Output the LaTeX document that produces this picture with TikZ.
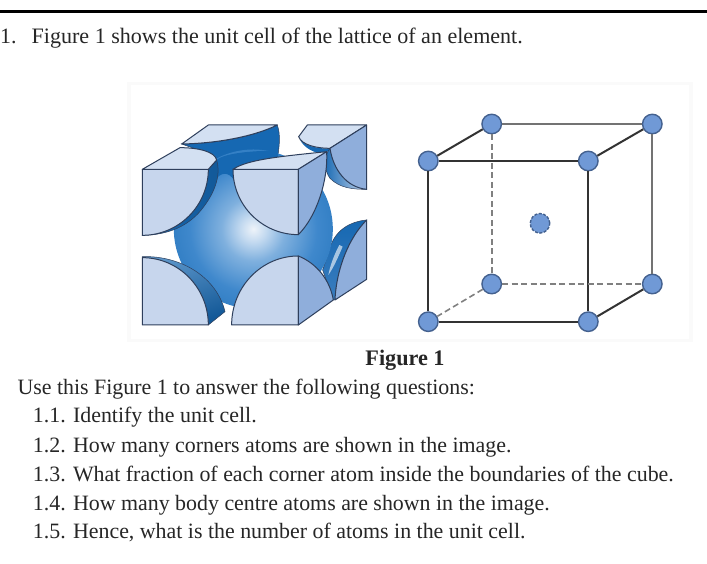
\documentclass[tikz,border=0pt]{standalone}
\usepackage{fontspec}
\setmainfont{Liberation Serif}
\definecolor{ballO}{HTML}{EEF3F9}
\definecolor{ballA}{HTML}{C4DAF0}
\definecolor{ballB}{HTML}{7FB0DE}
\definecolor{ballC}{HTML}{3F88CC}
\definecolor{ballD}{HTML}{1E70B8}
\definecolor{ballE}{HTML}{0D5FA6}
\pgfdeclareradialshading{ballshade}{\pgfpoint{0bp}{0bp}}{
 color(0bp)=(ballO);
 color(4bp)=(ballA);
 color(10bp)=(ballB);
 color(20bp)=(ballC);
 color(35bp)=(ballD);
 color(50bp)=(ballE)}
\definecolor{faceA}{HTML}{C7D6ED}
\definecolor{faceB}{HTML}{D3E0F2}
\definecolor{sideA}{HTML}{8FAEDB}
\definecolor{edgeC}{HTML}{2E3F5C}
\definecolor{rimD}{HTML}{1668B2}
\definecolor{atomF}{HTML}{7099D6}
\definecolor{atomE}{HTML}{44618F}
\tikzset{
 facefill/.style={fill=faceA,draw=edgeC,line width=1pt,line join=round},
 topfill/.style={fill=faceB,draw=edgeC,line width=1pt,line join=round},
 sidefill/.style={fill=sideA,draw=edgeC,line width=1pt,line join=round},
 rimdark/.style={left color=rimD,right color=rimD!85!black,draw=edgeC,line width=0.5pt},
 txt/.style={anchor=base west,inner sep=0pt,font=\fontsize{21.9}{26}\selectfont,text=black!85},
 atom/.style={circle,fill=atomF,draw=atomE,line width=1.4pt,minimum size=19.5pt,inner sep=0pt},
 solidedge/.style={draw=black!80,line width=2pt},
 greyedge/.style={draw=black!55,line width=2.2pt},
 hiddenedge/.style={draw=black!50,line width=1.6pt,dash pattern=on 6pt off 3.5pt},
}
\begin{document}
\begin{tikzpicture}[x=1pt,y=-1pt]
\useasboundingbox (0,0) rectangle (707,563);
\fill[white] (0,0) rectangle (707,563);
\fill[black!2] (127,82) rectangle (693,342);
\fill[white] (131,85) rectangle (689,339);
\draw[black,line width=2.6pt] (0,11.7) -- (707,11.7);
% left figure
\begin{scope}[shift={(120,80)},x=0.3333pt,y=-0.3333pt]
 % back top-left block
 \path[fill=rimD,draw=edgeC,line width=0.5pt] (185,192) .. controls (300,190) and (400,170) .. (472,135) .. controls (482,165) and (478,195) .. (474,225) -- (340,240) -- (285,240) .. controls (260,215) and (220,205) .. (185,192) -- cycle;
 \path[left color=rimD,middle color=faceA!60!rimD,right color=rimD,draw=none] (255,205) .. controls (320,195) and (390,180) .. (468,145) .. controls (472,170) and (470,190) .. (466,205) -- (340,218) .. controls (310,222) and (285,212) .. (255,205) -- cycle;
 \path[topfill] (185,192) -- (265,135) -- (472,135) .. controls (400,170) and (290,190) .. (185,192) -- cycle;
 % back top-right block
 \path[fill=rimD,draw=none] (540,180) .. controls (560,200) and (600,208) .. (640,205) -- (610,222) .. controls (580,218) and (555,205) .. (540,180) -- cycle;
 \path[left color=rimD,right color=faceA,draw=edgeC,line width=0.5pt] (630,205) .. controls (610,230) and (612,270) .. (630,295) .. controls (660,325) and (700,328) .. (740,328) -- cycle;
 \path[topfill] (536,170) -- (562,135) -- (740,135) -- (630,205) .. controls (590,205) and (545,195) .. (536,170) -- cycle;
 \path[sidefill] (630,205) -- (740,135) -- (740,328) .. controls (680,322) and (640,270) .. (630,205) -- cycle;
 % back bottom-right block
 \path[top color=rimD,bottom color=rimD!70!sideA,draw=edgeC,line width=0.5pt] (740,420) .. controls (690,425) and (640,450) .. (625,520) -- (608,570) -- (640,660) -- (645,660) .. controls (650,560) and (690,470) .. (740,420) -- cycle;
 \path[fill=white,draw=none,opacity=0.6] (658,495) .. controls (645,520) and (632,550) .. (625,585) .. controls (640,565) and (655,530) .. (668,500) -- cycle;
 \path[sidefill] (740,420) .. controls (690,470) and (650,560) .. (645,660) -- (740,598) -- cycle;
 % sphere
 \node[circle,minimum size=159pt,inner sep=0pt,shading=ballshade,draw=none] (ball) at (400,447) {};
 % top dark rim
 \path[fill=rimD,draw=none] (285,300) -- (290,240) .. controls (310,222) and (380,212) .. (474,212) -- (474,232) -- (345,262) -- (342,300) .. controls (325,275) and (305,275) .. (285,300) -- cycle;
 % front-top-left block
 \path[rimdark] (265,268) -- (290,240) .. controls (305,290) and (280,350) .. (235,400) .. controls (195,442) and (140,465) .. (67,466) -- cycle;
 \path[facefill] (67,268) -- (265,268) arc[start angle=0,end angle=90,radius=198] -- cycle;
 \path[topfill] (67,268) -- (180,203) .. controls (235,203) and (285,215) .. (290,240) -- (265,268) -- cycle;
 % front-top-right block
 \path[facefill] (339,268) -- (535,268) -- (535,464) arc[start angle=90,end angle=180,radius=196] -- cycle;
 \path[topfill] (339,268) .. controls (380,240) and (470,230) .. (620,215) -- (535,268) -- cycle;
 \path[sidefill] (535,268) -- (620,215) .. controls (625,300) and (590,410) .. (535,464) -- cycle;
 % front-bottom-left block
 \path[left color=rimD!70!white,right color=rimD!85!black,shading angle=20,draw=edgeC,line width=0.5pt] (67,530) .. controls (180,526) and (290,590) .. (315,695) -- (265,735) -- cycle;
 \path[facefill] (67,533) arc[start angle=-90,end angle=0,x radius=198,y radius=202] -- (67,735) -- cycle;
 % front-bottom-right block
 \path[facefill] (335,735) arc[start angle=180,end angle=270,x radius=200,y radius=207] -- (535,735) -- cycle;
 \path[sidefill] (535,528) .. controls (590,550) and (630,600) .. (640,660) -- (535,735) -- cycle;
\end{scope}
% right figure
\node[atom] (ftl) at (428.3,161) {};
\node[atom] (ftr) at (588.3,161) {};
\node[atom] (fbl) at (428.3,321.7) {};
\node[atom] (fbr) at (588.3,321.7) {};
\node[atom] (btl) at (491.7,124) {};
\node[atom] (btr) at (652.3,124) {};
\node[atom] (bbl) at (491.7,284) {};
\node[atom] (bbr) at (652.3,284) {};
\node[atom,dash pattern=on 3pt off 1.5pt] (mid) at (540,223.3) {};
\draw[solidedge] (ftl) -- (ftr);
\draw[solidedge] (ftl) -- (btl);
\draw[solidedge] (ftr) -- (btr);
\draw[solidedge] (ftl) -- (fbl);
\draw[solidedge] (ftr) -- (fbr);
\draw[solidedge] (fbl) -- (fbr);
\draw[solidedge] (fbr) -- (bbr);
\draw[greyedge] (btl) -- (btr);
\draw[greyedge] (btr) -- (bbr);
\draw[hiddenedge] (btl) -- (bbl);
\draw[hiddenedge] (bbl) -- (bbr);
\draw[hiddenedge] (bbl) -- (fbl);
% text
\node[txt] (t0) at (0,43) {1.};
\node[txt,font=\fontsize{22.05}{26}\selectfont] (t0b) at (31.5,43) {Figure 1 shows the unit cell of the lattice of an element.};
\node[txt,anchor=base,font=\fontsize{22.2}{26}\selectfont\bfseries] (cap) at (405,365) {Figure 1};
\node[txt] (t1) at (17.3,394) {Use this Figure 1 to answer the following questions:};
\node[txt] (t2) at (32.7,422.7) {1.1. Identify the unit cell.};
\node[txt] (t3) at (32.7,452.5) {1.2. How many corners atoms are shown in the image.};
\node[txt] (t4) at (32.7,481.3) {1.3. What fraction of each corner atom inside the boundaries of the cube.};
\node[txt] (t5) at (32.7,510) {1.4. How many body centre atoms are shown in the image.};
\node[txt] (t6) at (32.7,538.7) {1.5. Hence, what is the number of atoms in the unit cell.};
\end{tikzpicture}
\end{document}
